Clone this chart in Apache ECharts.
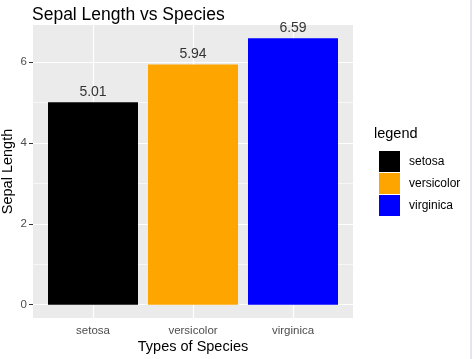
<!DOCTYPE html>
<html><head><meta charset="utf-8">
<script src="https://cdn.jsdelivr.net/npm/echarts@6/dist/echarts.min.js"></script>
<style>html,body{margin:0;padding:0;background:#fff}#c{width:474px;height:359px}</style>
</head><body><div id="c"></div>
<script>
const categories = ['setosa', 'versicolor', 'virginica'];
const values = [5.01, 5.94, 6.59];
const colors = ['#000000', '#FFA500', '#0000FF'];
const yTicks = [0, 2, 4, 6];
const yMinor = [1, 3, 5];

const yMax = Math.max(...values);
const yPad = yMax * 0.05;
const catPos = categories.map((c, i) => i + 1);

const font = 'Liberation Sans, Arial, sans-serif';
const chart = echarts.init(document.getElementById('c'));

const barSeries = categories.map((name, i) => ({
  name: name,
  type: 'bar',
  stack: 'all',
  z: 3,
  barWidth: 90,
  itemStyle: { color: colors[i] },
  data: [[catPos[i], values[i]]],
  label: {
    show: true, position: 'top', distance: 3,
    formatter: p => values[i].toFixed(2),
    fontFamily: font, fontSize: 14, color: '#333'
  }
}));

const gridSeries = {
  type: 'line', data: [], z: 1, silent: true,
  markLine: {
    silent: true, symbol: 'none', z: 1,
    label: { show: false },
    animation: false,
    data: [
      ...yMinor.map(v => ({ yAxis: v, lineStyle: { color: '#fff', width: 0.6, type: 'solid' } })),
      ...yTicks.map(v => ({ yAxis: v, lineStyle: { color: '#fff', width: 1.2, type: 'solid' } })),
      ...catPos.map(v => ({ xAxis: v, lineStyle: { color: '#fff', width: 1.2, type: 'solid' } }))
    ]
  }
};

chart.setOption({
  animation: false,
  backgroundColor: '#fff',
  title: {
    text: 'Sepal Length vs Species', left: 27, top: 1,
    textStyle: { fontFamily: font, fontSize: 17.5, fontWeight: 'normal', color: '#000' }
  },
  grid: {
    left: 33, top: 25, width: 320, height: 293,
    outerBoundsMode: 'none', containLabel: false,
    show: true, backgroundColor: '#EBEBEB', borderWidth: 0
  },
  legend: {
    orient: 'vertical', left: 374, top: 146,
    itemWidth: 21, itemHeight: 21, itemGap: 1,
    icon: 'rect',
    data: categories,
    textStyle: { fontFamily: font, fontSize: 12, color: '#000', padding: [0, 0, 0, 4] }
  },
  xAxis: {
    type: 'value', min: 0.4, max: 3.6,
    name: 'Types of Species', nameLocation: 'middle', nameGap: 21, nameMoveOverlap: false,
    nameTextStyle: { fontFamily: font, fontSize: 14.5, color: '#000' },
    axisLine: { show: false },
    splitLine: { show: false },
    axisTick: { show: true, customValues: catPos, length: 4, lineStyle: { color: '#333', width: 1 } },
    axisLabel: {
      customValues: catPos, margin: 7,
      formatter: v => categories[Math.round(v) - 1] || '',
      fontFamily: font, fontSize: 11.5, color: '#4D4D4D'
    }
  },
  yAxis: {
    type: 'value', min: -yPad, max: yMax + yPad,
    name: 'Sepal Length', nameLocation: 'middle', nameGap: 18, nameRotate: 90, nameMoveOverlap: false,
    nameTextStyle: { fontFamily: font, fontSize: 14.5, color: '#000' },
    axisLine: { show: false },
    splitLine: { show: false },
    axisTick: { show: true, customValues: yTicks, length: 4, lineStyle: { color: '#333', width: 1 } },
    axisLabel: {
      customValues: yTicks, margin: 6,
      formatter: v => String(v),
      fontFamily: font, fontSize: 11.5, color: '#4D4D4D'
    }
  },
  graphic: [
    { type: 'text', left: 374, top: 126, style: { text: 'legend', fontFamily: font, fontSize: 14.5, fill: '#000' } },
    { type: 'line', shape: { x1: 471, y1: 0, x2: 471, y2: 359 }, style: { stroke: '#DDDDE4', lineWidth: 1.5 } }
  ],
  series: [gridSeries, ...barSeries]
});
</script></body></html>
